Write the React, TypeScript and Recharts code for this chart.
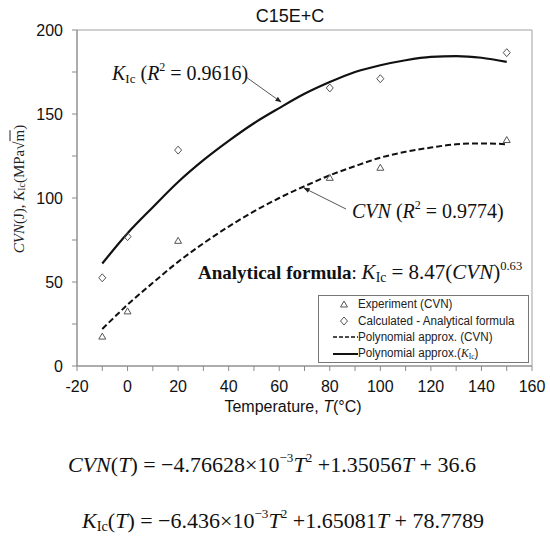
import React from 'react';
import {
  ComposedChart,
  Line,
  Scatter,
  XAxis,
  YAxis,
  ReferenceArea,
} from 'recharts';

// measured points
const expTemps = [-10, 0, 20, 80, 100, 150];
const cvnExperiment = [17.5, 32.5, 74.5, 112, 118, 134.5];
const kicCalculated = [52.5, 77, 128.5, 165.5, 171, 186.5];

// fitted curves
const fitTemps = [-10, 0, 10, 20, 30, 40, 50, 60, 70, 80, 90, 100, 110, 120, 130, 140, 150];
const cvnFit = [22, 36.5, 49.5, 62, 73, 83, 92, 100, 107, 113.5, 119, 124, 127.5, 130, 132, 132.5, 132];
const kicFit = [61, 79, 94.5, 109.5, 122.5, 134, 144.5, 153.5, 162, 169, 175, 179, 182, 184, 184.5, 183.5, 181];

const xTicks = [-20, -10, 0, 10, 20, 30, 40, 50, 60, 70, 80, 90, 100, 110, 120, 130, 140, 150, 160];
const yTicks = [0, 25, 50, 75, 100, 125, 150, 175, 200];

const toPts = (xs: number[], ys: number[]) => xs.map((x, i) => ({ x, y: ys[i] }));

const expData = toPts(expTemps, cvnExperiment);
const calcData = toPts(expTemps, kicCalculated);
const cvnFitData = toPts(fitTemps, cvnFit);
const kicFitData = toPts(fitTemps, kicFit);

const SANS = '"Liberation Sans", Arial, sans-serif';
const SERIF = '"Liberation Serif", "Times New Roman", serif';
const AXIS = '#8a8a8a';

const Triangle = ({ cx, cy }: any) => (
  <path
    d={`M${cx},${cy - 3.5} L${cx + 3.5},${cy + 2.5} L${cx - 3.5},${cy + 2.5} Z`}
    fill="none"
    stroke="#555"
    strokeWidth={1}
  />
);

const Diamond = ({ cx, cy }: any) => (
  <path
    d={`M${cx},${cy - 4} L${cx + 3.5},${cy} L${cx},${cy + 4} L${cx - 3.5},${cy} Z`}
    fill="none"
    stroke="#555"
    strokeWidth={1}
  />
);

const XTick = ({ x, y, payload }: any) => (
  <g>
    <line x1={x} y1={y} x2={x} y2={y + 5} stroke={AXIS} />
    {payload.value % 20 === 0 && (
      <text x={x} y={y + 26} textAnchor="middle" fontFamily={SANS} fontSize={16} fill="#111">
        {payload.value}
      </text>
    )}
  </g>
);

const YTick = ({ x, y, payload }: any) => (
  <g>
    <line x1={x} y1={y} x2={x - 5} y2={y} stroke={AXIS} />
    {payload.value % 50 === 0 && (
      <text x={x - 14} y={y + 6} textAnchor="end" fontFamily={SANS} fontSize={16} fill="#111">
        {payload.value}
      </text>
    )}
  </g>
);

const sup: React.CSSProperties = { fontSize: '0.6em', verticalAlign: '0.75em', lineHeight: 0 };
const sub: React.CSSProperties = { fontSize: '0.65em', verticalAlign: '-0.2em', lineHeight: 0 };

const Txt = ({ left, top, center, style, children }: any) => (
  <div
    style={{
      position: 'absolute',
      left,
      top,
      whiteSpace: 'nowrap',
      lineHeight: 1,
      transform: center ? 'translateX(-50%)' : undefined,
      ...style,
    }}
  >
    {children}
  </div>
);

const legendRows = [
  { kind: 'tri', label: 'Experiment (CVN)' },
  { kind: 'dia', label: 'Calculated - Analytical formula' },
  { kind: 'dash', label: 'Polynomial approx. (CVN)' },
  { kind: 'solid', label: 'Polynomial approx.(' },
];

const LegendBox = () => (
  <div
    style={{
      position: 'absolute',
      left: 318,
      top: 295,
      width: 209,
      height: 66,
      border: '1px solid #777',
      background: '#fff',
      fontFamily: SANS,
      fontSize: 12,
      color: '#222',
      whiteSpace: 'nowrap',
      overflow: 'hidden',
    }}
  >
    {legendRows.map((r) => (
      <div key={r.kind} style={{ display: 'flex', alignItems: 'center', height: 16.5 }}>
        <svg width={39} height={14} style={{ flex: 'none' }}>
          {r.kind === 'tri' && <Triangle cx={25} cy={7.5} />}
          {r.kind === 'dia' && <Diamond cx={25} cy={7} />}
          {r.kind === 'dash' && (
            <line x1={14} y1={7} x2={39} y2={7} stroke="#111" strokeWidth={1.6} strokeDasharray="4 2" />
          )}
          {r.kind === 'solid' && <line x1={14} y1={7} x2={39} y2={7} stroke="#111" strokeWidth={2} />}
        </svg>
        <span style={{ transform: 'scaleX(0.97)', transformOrigin: 'left' }}>
          {r.label}
          {r.kind === 'solid' && (
            <>
              <i style={{ fontFamily: SERIF }}>K</i>
              <span style={{ ...sub, fontFamily: SERIF }}>Ic</span>)
            </>
          )}
        </span>
      </div>
    ))}
  </div>
);

export default function App() {
  return (
    <div
      style={{
        position: 'absolute',
        left: 0,
        top: 0,
        width: 550,
        height: 543,
        background: '#fff',
        overflow: 'hidden',
      }}
    >
      <ComposedChart width={550} height={543} margin={{ top: 30, right: 18, bottom: 117, left: 0 }}>
        <XAxis
          type="number"
          dataKey="x"
          domain={[-20, 160]}
          ticks={xTicks}
          interval={0}
          height={60}
          tickSize={0}
          tickMargin={0}
          tickLine={false}
          axisLine={{ stroke: AXIS }}
          tick={<XTick />}
          allowDataOverflow
        />
        <YAxis
          type="number"
          dataKey="y"
          domain={[0, 200]}
          ticks={yTicks}
          interval={0}
          width={77}
          tickSize={0}
          tickMargin={0}
          tickLine={false}
          axisLine={{ stroke: AXIS }}
          tick={<YTick />}
          allowDataOverflow
        />
        <ReferenceArea x1={-20} x2={160} y1={0} y2={200} fill="none" stroke="#a0a0a0" />
        <Line
          data={cvnFitData}
          dataKey="y"
          type="monotone"
          stroke="#111"
          strokeWidth={2}
          strokeDasharray="6 3"
          dot={false}
          isAnimationActive={false}
        />
        <Line
          data={kicFitData}
          dataKey="y"
          type="monotone"
          stroke="#111"
          strokeWidth={2.2}
          dot={false}
          isAnimationActive={false}
        />
        <Scatter data={expData} dataKey="y" shape={<Triangle />} isAnimationActive={false} />
        <Scatter data={calcData} dataKey="y" shape={<Diamond />} isAnimationActive={false} />
      </ComposedChart>

      <svg width={550} height={543} style={{ position: 'absolute', left: 0, top: 0, pointerEvents: 'none' }}>
        <defs>
          <marker id="arr" viewBox="0 0 10 10" refX={9} refY={5} markerWidth={7} markerHeight={7} orient="auto">
            <path d="M0,1 L10,5 L0,9 Z" fill="#222" />
          </marker>
        </defs>
        <line x1={246} y1={77} x2={281} y2={102} stroke="#444" strokeWidth={0.9} markerEnd="url(#arr)" />
        <line x1={346} y1={209} x2={304} y2={188} stroke="#444" strokeWidth={0.9} markerEnd="url(#arr)" />
      </svg>

      <Txt left={290} top={7} center style={{ fontFamily: SANS, fontSize: 18, color: '#111' }}>
        C15E+C
      </Txt>

      <div
        style={{
          position: 'absolute',
          left: 19,
          top: 189,
          transform: 'translate(-50%, -50%) rotate(-90deg)',
          whiteSpace: 'nowrap',
          fontFamily: SERIF,
          fontSize: 15,
          lineHeight: 1,
          color: '#222',
        }}
      >
        <i>CVN</i>(J), <i>K</i>
        <span style={sub}>Ic</span>(MPa
        <span>√</span>
        <span style={{ borderTop: '1px solid #222' }}>m</span>)
      </div>

      <Txt left={112} top={63} style={{ fontFamily: SERIF, fontSize: 20, color: '#111' }}>
        <i>K</i>
        <span style={sub}>Ic</span> (<i>R</i>
        <span style={sup}>2</span> = 0.9616)
      </Txt>

      <Txt left={352} top={201} style={{ fontFamily: SERIF, fontSize: 20, color: '#111' }}>
        <i>CVN</i> (<i>R</i>
        <span style={sup}>2</span> = 0.9774)
      </Txt>

      <Txt left={198} top={262} style={{ fontFamily: SERIF, fontSize: 19, color: '#111' }}>
        <b>Analytical formula</b>:{' '}
        <span style={{ fontSize: 21 }}>
          <i>K</i>
          <span style={sub}>Ic</span> = 8.47(<i>CVN</i>)<span style={sup}>0.63</span>
        </span>
      </Txt>

      <LegendBox />

      <Txt left={293} top={399} center style={{ fontFamily: SANS, fontSize: 16, color: '#111' }}>
        Temperature, <i>T</i>(°C)
      </Txt>

      <Txt left={68} top={454} style={{ fontFamily: SERIF, fontSize: 22, color: '#111' }}>
        <i>CVN</i>(<i>T</i>) = −4.76628×10<span style={sup}>−3</span>
        <i>T</i>
        <span style={sup}>2</span> +1.35056<i>T</i> + 36.6
      </Txt>

      <Txt left={82} top={510} style={{ fontFamily: SERIF, fontSize: 22, color: '#111' }}>
        <i>K</i>
        <span style={sub}>Ic</span>(<i>T</i>) = −6.436×10<span style={sup}>−3</span>
        <i>T</i>
        <span style={sup}>2</span> +1.65081<i>T</i> + 78.7789
      </Txt>
    </div>
  );
}
